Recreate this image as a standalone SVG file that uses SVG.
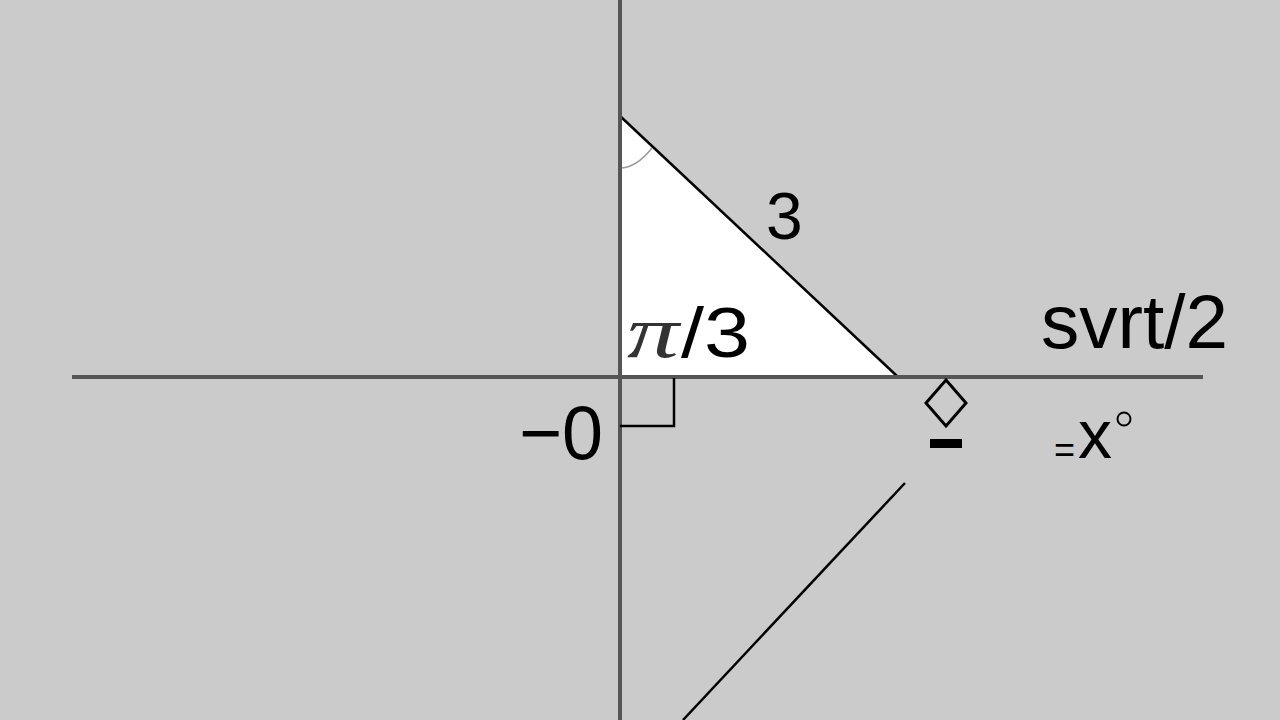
<svg xmlns="http://www.w3.org/2000/svg" width="1280" height="720" viewBox="0 0 1280 720">
<style>
.axis{stroke:#555;stroke-width:4;fill:none}
.ln{stroke:#000;stroke-width:2.5;fill:none}
.t{font-family:"Liberation Sans",Arial,sans-serif;fill:#000}
</style>
<rect width="1280" height="720" fill="#cbcbcb"/>
<g id="triangle">
<polygon points="620,116 898,377 620,377" fill="#fff"/>
<line class="ln" x1="620" y1="116" x2="898" y2="377"/>
<path d="M620,168 Q636,168 652,148" stroke="#999" stroke-width="1.5" fill="none"/>
</g>
<g id="axes">
<line class="axis" x1="620" y1="0" x2="620" y2="720"/>
<line class="axis" x1="72" y1="377" x2="1203" y2="377"/>
</g>
<g id="right-angle">
<path class="ln" d="M620,426 H674 V378" stroke-width="2"/>
</g>
<g id="connectors">
<line class="ln" x1="905" y1="483" x2="683" y2="720" stroke-width="2"/>
</g>
<g id="diamond">
<polygon points="946,380 966,403 946,426 926,403" fill="none" stroke="#000" stroke-width="3"/>
<rect x="930" y="439" width="32" height="9" fill="#000"/>
</g>
<g id="labels">
<text class="t" x="766" y="239" font-size="66">3</text>
<text class="t" x="1041" y="348" font-size="76" textLength="187" lengthAdjust="spacingAndGlyphs">svrt/2</text>
<text x="627" y="357" font-size="74" font-family="'Liberation Serif',serif" font-style="italic" fill="#333" textLength="52" lengthAdjust="spacingAndGlyphs">π</text>
<text class="t" x="681" y="357" font-size="70" fill="#333" textLength="69" lengthAdjust="spacingAndGlyphs">/3</text>
<text class="t" x="519" y="459" font-size="76" textLength="84" lengthAdjust="spacingAndGlyphs">−0</text>
<text class="t" x="1054" y="462" font-size="36" fill="#666">=</text>
<text class="t" x="1078" y="458" font-size="68">x</text>
<circle cx="1124" cy="419" r="6.5" fill="none" stroke="#000" stroke-width="2"/>
</g>
</svg>
